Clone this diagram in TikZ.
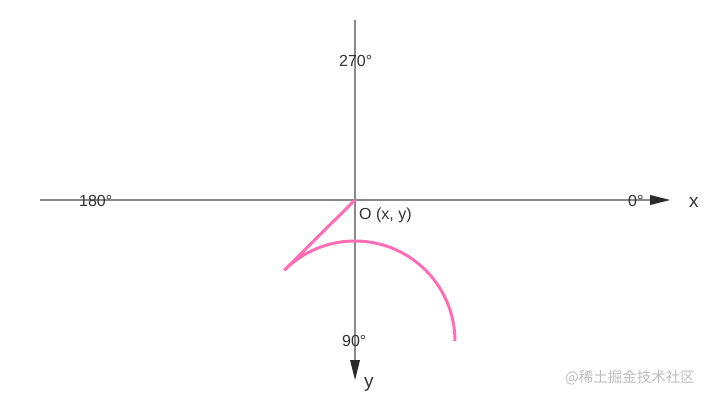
\documentclass[tikz,border=0pt]{standalone}
\usepackage{fontspec}
\setmainfont{Liberation Sans}
\newfontfamily\cjkfont{Noto Sans CJK SC}
\definecolor{axisgray}{HTML}{8A8A8A}
\definecolor{txt}{HTML}{333333}
\definecolor{tipc}{HTML}{2A2A2A}
\definecolor{pinkc}{HTML}{FF6EB4}
\definecolor{wm}{HTML}{BDBDBD}
\begin{document}
\begin{tikzpicture}[x=1pt,y=1pt,
  axisline/.style={draw=axisgray,line width=1.3pt},
  tiphead/.style={fill=tipc},
  lbl/.style={text=txt,inner sep=0pt,anchor=base west,font=\fontsize{16}{19}\selectfont},
  axlbl/.style={text=txt,inner sep=0pt,anchor=base west,font=\fontsize{19}{22}\selectfont},
  pinkline/.style={draw=pinkc,line width=3pt}]
\useasboundingbox (0,0) rectangle (710,400);
% coordinates (y up: Y = 400 - y)
\coordinate (xstart) at (40,200);
\coordinate (xend) at (650,200);
\coordinate (ystart) at (355,380);
\coordinate (yend) at (355,40);
\coordinate (O) at (355,200);
\coordinate (arcstart) at (284.29,129.71);
% axes
\draw[axisline] (xstart) -- (xend);
\draw[axisline] (ystart) -- (yend);
\fill[tiphead] (650,195) -- (670,200) -- (650,205) -- cycle;
\fill[tiphead] (350,40) -- (355,20) -- (360,40) -- cycle;
% pink path
\draw[pinkline,line join=miter] (O) -- (arcstart) arc[start angle=135,end angle=0,radius=100];
% labels
\node[lbl] (l270) at (339,334) {270°};
\node[lbl] (l180) at (79,194) {180°};
\node[lbl] (l0) at (628,194) {0°};
\node[axlbl] (lx) at (689,193) {x};
\node[lbl] (lO) at (359,181) {O (x, y)};
\node[lbl] (l90) at (342,54) {90°};
\node[axlbl] (ly) at (364,13) {y};
\node[text=wm,inner sep=0pt,font=\cjkfont\fontsize{14.5}{16}\selectfont] (wmark) at (630,22) {@稀土掘金技术社区};
\end{tikzpicture}
\end{document}
